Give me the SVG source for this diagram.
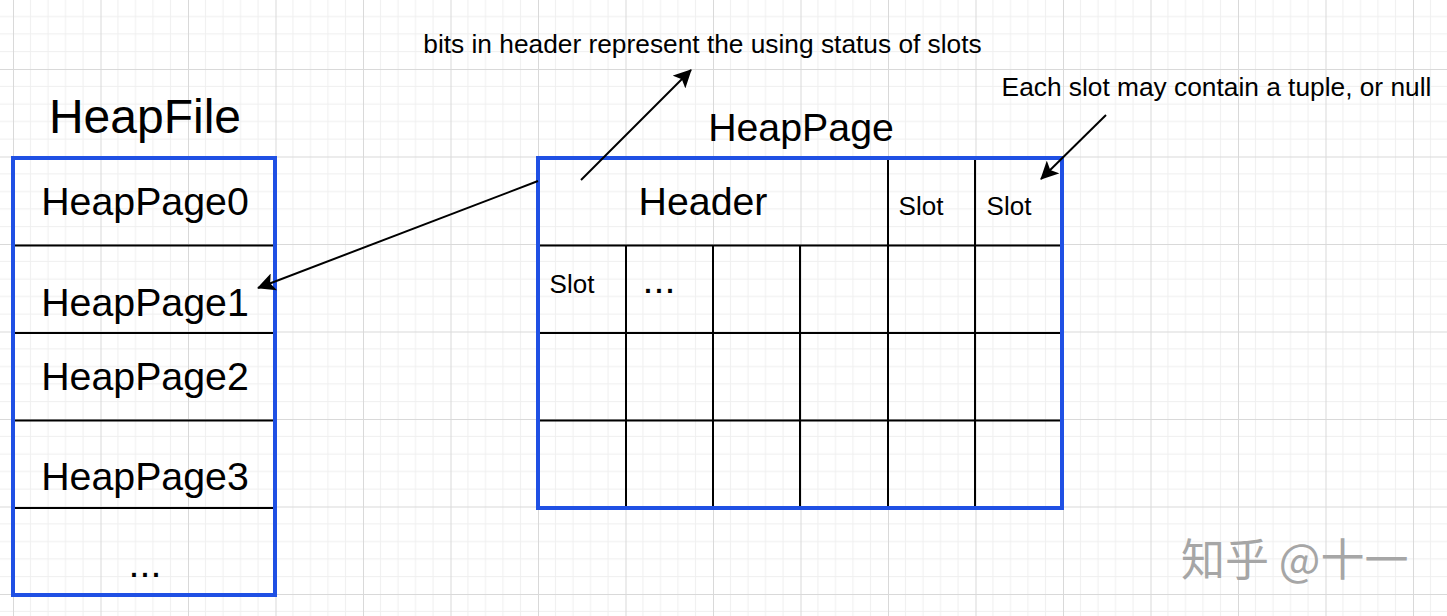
<svg xmlns="http://www.w3.org/2000/svg" width="1447" height="616" viewBox="0 0 1447 616">
<style>
text{font-family:"Liberation Sans",Arial,sans-serif;fill:#000;text-anchor:middle}
.big{font-size:39.3px}
.title{font-size:48px}
.small{font-size:26px}
.note{font-size:26.3px}
.frame{fill:none;stroke:#1f50e4;stroke-width:4}
.cell{stroke:#000;stroke-width:2;fill:none}
.conn{stroke:#000;stroke-width:2;fill:none;marker-end:url(#arrow)}
.wm{font-family:"Noto Sans CJK SC","Noto Sans",sans-serif;font-size:44px;fill:#a6a6a6;text-anchor:start}
</style>
<defs>
<pattern id="grid" x="13" y="69" width="87.5" height="87.5" patternUnits="userSpaceOnUse">
<g stroke="#efefef" stroke-width="1">
<path d="M17.5,0V87.5M35,0V87.5M52.5,0V87.5M70,0V87.5M0,17.5H87.5M0,35H87.5M0,52.5H87.5M0,70H87.5"/>
</g>
<path d="M0.5,0V87.5M0,0.5H87.5" stroke="#d9d9d9" stroke-width="1"/>
</pattern>
<marker id="arrow" viewBox="0 0 18 18" refX="17" refY="9" markerWidth="18" markerHeight="18" markerUnits="userSpaceOnUse" orient="auto">
<path d="M0,0 L18,9 L0,18 L4,9 Z" fill="#000"/>
</marker>
</defs>
<rect x="0" y="0" width="1447" height="616" fill="#fff"/>
<rect x="0" y="0" width="1447" height="616" fill="url(#grid)"/>

<g id="heapfile">
<text class="title" x="145" y="133">HeapFile</text>
<path class="cell" d="M13,245.5H275M13,333H275M13,420.5H275M13,508H275"/>
<rect class="frame" x="13" y="158" width="262" height="437"/>
<text class="big" x="145" y="215">HeapPage0</text>
<text class="big" x="145" y="316">HeapPage1</text>
<text class="big" x="145" y="390">HeapPage2</text>
<text class="big" x="145" y="490">HeapPage3</text>
<text class="big" x="145" y="577">...</text>
</g>

<g id="heappage">
<text class="big" x="801" y="141">HeapPage</text>
<path class="cell" d="M538,245.5H1062M538,333H1062M538,420.5H1062M888,158V508M975,158V508M626,245.5V508M713,245.5V508M800,245.5V508"/>
<rect class="frame" x="538" y="158" width="524" height="350"/>
<text class="big" x="703" y="215">Header</text>
<text class="small" x="921" y="215">Slot</text>
<text class="small" x="1009" y="215">Slot</text>
<text class="small" x="572" y="293">Slot</text>
<text class="big" x="659" y="293">...</text>
</g>

<g id="note-bits">
<text class="note" x="702.5" y="53">bits in header represent the using status of slots</text>
</g>
<g id="note-slot">
<text class="note" x="1216.5" y="96">Each slot may contain a tuple, or null</text>
</g>

<g id="connectors">
<line class="conn" x1="538" y1="181" x2="258" y2="288"/>
<line class="conn" x1="581" y1="180" x2="691" y2="70"/>
<line class="conn" x1="1106" y1="115" x2="1041" y2="179"/>
</g>

<text class="wm" x="1181" y="576">知乎 @十一</text>
</svg>
